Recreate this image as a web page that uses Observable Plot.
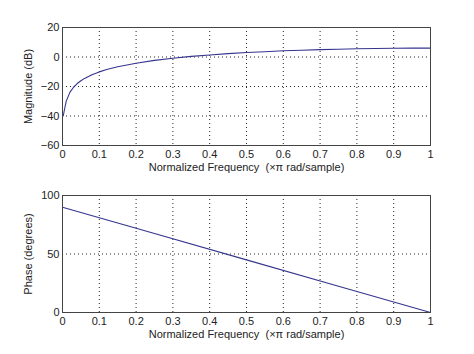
<!DOCTYPE html>
<html>
<head>
<meta charset="utf-8">
<script src="https://cdn.jsdelivr.net/npm/d3@7"></script>
<script src="https://cdn.jsdelivr.net/npm/@observablehq/plot@0.6"></script>
<style>
  html, body { margin: 0; padding: 0; background: #fff; }
  #chart { width: 474px; height: 354px; }
  #chart svg { display: block; }
</style>
</head>
<body>
<div id="chart"></div>
<script>
// Magnitude response (dB)
const magFreq = [0.002, 0.005, 0.01, 0.02, 0.03, 0.04, 0.05, 0.06, 0.08, 0.1, 0.12, 0.15, 0.2, 0.25, 0.3, 0.35, 0.4, 0.45, 0.5, 0.55, 0.6, 0.65, 0.7, 0.75, 0.8, 0.85, 0.9, 0.95, 1.0];
const magDb   = [-40, -36.1, -30.1, -24.0, -20.5, -18.0, -16.1, -14.5, -12.0, -10.1, -8.5, -6.6, -4.2, -2.3, -0.8, 0.4, 1.4, 2.3, 3.0, 3.6, 4.2, 4.6, 5.0, 5.3, 5.6, 5.8, 5.9, 6.0, 6.0];
// Phase response (degrees)
const phaseFreq = [0, 0.25, 0.5, 0.75, 1.0];
const phaseDeg  = [90, 67.5, 45, 22.5, 0];
// Tick labels
const xTicks = [0, 0.1, 0.2, 0.3, 0.4, 0.5, 0.6, 0.7, 0.8, 0.9, 1];
const magTicks = [-60, -40, -20, 0, 20];
const phaseTicks = [0, 50, 100];
const xLabel = "Normalized Frequency  (\u00d7\u03c0 rad/sample)";

const lineColor = "#35358f";
const font = "Liberation Sans, Arial, sans-serif";

const magData = magFreq.map((f, i) => ({f, v: magDb[i]}));
const phaseData = phaseFreq.map((f, i) => ({f, v: phaseDeg[i]}));

function panel({data, yDomain, yTicks, yLabel, height, marginTop, marginBottom}) {
  const innerX = xTicks.filter(t => t > xTicks[0] && t < xTicks[xTicks.length - 1]);
  const innerY = yTicks.filter(t => t > yDomain[0] && t < yDomain[1]);
  return Plot.plot({
    width: 474,
    height,
    marginLeft: 62,
    marginRight: 44,
    marginTop,
    marginBottom,
    style: {fontFamily: font, fontSize: "11px", color: "#222", background: "white"},
    x: {domain: [0, 1], ticks: xTicks, tickSize: 0, tickPadding: 5, label: xLabel, labelAnchor: "center", labelOffset: 25, labelArrow: "none", tickFormat: d => String(d)},
    y: {domain: yDomain, ticks: yTicks, tickSize: 0, tickPadding: 3, label: yLabel, labelAnchor: "center", labelOffset: 38, labelArrow: "none"},
    marks: [
      Plot.ruleX(innerX, {stroke: "#222", strokeDasharray: "1,3", strokeWidth: 1}),
      Plot.ruleY(innerY, {stroke: "#222", strokeDasharray: "1,3", strokeWidth: 1}),
      Plot.line(data, {x: "f", y: "v", stroke: lineColor, strokeWidth: 1.1}),
      Plot.frame({stroke: "#444", strokeWidth: 1})
    ]
  });
}

const topPanel = panel({data: magData, yDomain: [-60, 20], yTicks: magTicks, yLabel: "Magnitude (dB)", height: 175, marginTop: 27, marginBottom: 30});
const bottomPanel = panel({data: phaseData, yDomain: [0, 100], yTicks: phaseTicks, yLabel: "Phase (degrees)", height: 179, marginTop: 20, marginBottom: 42});
const el = document.getElementById("chart");
el.appendChild(topPanel);
el.appendChild(bottomPanel);
</script>
</body>
</html>
